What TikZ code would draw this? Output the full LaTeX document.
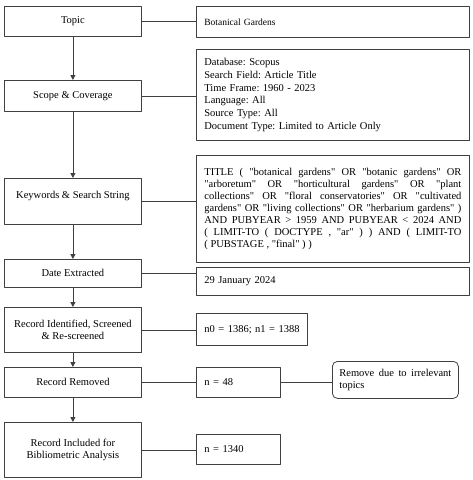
\documentclass[tikz,border=0pt]{standalone}
\usepackage{fontspec}
\setmainfont{Liberation Serif}[Ligatures=TeXOff]
\usetikzlibrary{arrows.meta}
\newcommand{\txt}{\fontsize{10.5}{12.4}\selectfont}
\tolerance=9999
\hbadness=10000
\hfuzz=20pt
\frenchspacing
\begin{document}
\begin{tikzpicture}[x=1pt,y=-1pt,line join=round]
\tikzstyle{stage} = [draw=black!75,line width=0.8pt,anchor=north west,minimum width=137pt,align=center,inner sep=1pt,font=\txt]
\tikzstyle{info} = [draw=black!75,line width=0.8pt,anchor=north west,align=left,inner xsep=8pt,inner ysep=1pt,font=\txt]
\tikzstyle{link} = [draw=black!75,line width=0.8pt]
\tikzstyle{flow} = [link,-{Triangle[width=5pt,length=5pt]}]
\useasboundingbox (0,0) rectangle (472,480);
%étapes (colonne gauche)
\node[stage,minimum height=30pt] (topic) at (4,6) {Topic};
\node[stage,minimum height=31pt] (scope) at (4,80) {Scope \& Coverage};
\node[stage,minimum height=46pt] (keys) at (4,178) {Keywords \& Search String\\~};
\node[stage,minimum height=28pt] (date) at (4,259) {Date Extracted};
\node[stage,minimum height=45pt] (ident) at (4,307) {Record Identified, Screened\\\& Re-screened};
\node[stage,minimum height=30pt] (removed) at (4,367) {Record Removed};
\node[stage,minimum height=55pt] (incl) at (4,422) {Record Included for\\Bibliometric Analysis};
%détails (colonne droite)
\node[info,text width=257pt,minimum height=31pt,font=\fontsize{9.5}{11}\selectfont] (topicR) at (196,6) {Botanical Gardens};
\node[info,text width=257pt,minimum height=91pt,font=\fontsize{10.5}{12.8}\selectfont] (scopeR) at (196,49)
  {Database: Scopus\\Search Field: Article Title\\Time Frame: 1960 - 2023\\Language: All\\Source Type: All\\Document Type: Limited to Article Only};
\node[info,text width=257pt,minimum height=107pt,align=justify,font=\fontsize{10.5}{12.1}\selectfont] (keysR) at (196,155)
  {TITLE ( "botanical gardens" OR "botanic gardens" OR\linebreak
  "arboretum" OR "horticultural gardens" OR "plant\linebreak
  collections" OR "floral conservatories" OR "cultivated\linebreak
  gardens" OR "living collections" OR "herbarium gardens" )\linebreak
  AND PUBYEAR > 1959 AND PUBYEAR < 2024 AND\linebreak
  ( LIMIT-TO ( DOCTYPE , "ar" ) ) AND ( LIMIT-TO\linebreak
  ( PUBSTAGE , "final" ) )};
\node[info,text width=257pt,minimum height=28pt] (dateR) at (196,267) {29 January 2024};
\node[info,text width=95pt,minimum height=32pt] (identR) at (196,313) {\mbox{n0 = 1386; n1 = 1388}};
\node[info,text width=68pt,minimum height=30pt] (removedR) at (196,367) {n = 48};
\node[info,text width=112pt,minimum height=37pt,inner xsep=7pt,align=justify,rounded corners=5pt] (reason) at (332,361)
  {Remove due to irrelevant\linebreak topics};
\node[info,text width=68pt,minimum height=30pt] (inclR) at (196,434) {n = 1340};
%flèches
\draw[flow] (topic) -- (scope);
\draw[flow] (scope) -- (keys);
\draw[flow] (keys) -- (date);
\draw[flow] (date) -- (ident);
\draw[flow] (ident) -- (removed);
\draw[flow] (removed) -- (incl);
%liaisons horizontales
\draw[link] (topic.east) -- (topic.east -| topicR.west);
\draw[link] (scope.east) -- (scope.east -| scopeR.west);
\draw[link] (keys.east) -- (keys.east -| keysR.west);
\draw[link] (date.east) -- (date.east -| dateR.west);
\draw[link] (ident.east) -- (ident.east -| identR.west);
\draw[link] (removed.east) -- (removed.east -| removedR.west);
\draw[link] (removedR.east) -- (removedR.east -| reason.west);
\draw[link] (incl.east) -- (incl.east -| inclR.west);
\end{tikzpicture}
\end{document}
